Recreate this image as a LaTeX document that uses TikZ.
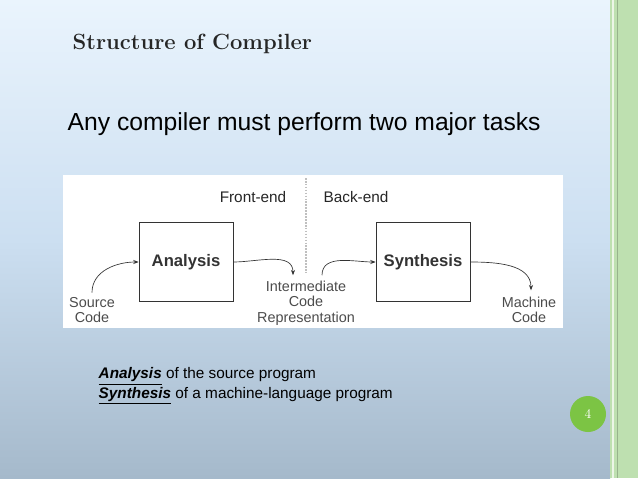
\documentclass[tikz,border=0pt]{standalone}
\usepackage{fontspec}
\newfontfamily\sans{Liberation Sans}
\usetikzlibrary{arrows.meta,calc}
\definecolor{slidetop}{HTML}{EAF4FD}
\definecolor{slidemid}{HTML}{CCDFF1}
\definecolor{slidebot}{HTML}{A5B9CB}
\definecolor{bandgreen}{HTML}{BEE0B0}
\definecolor{dotgreen}{HTML}{7CC444}
\tikzset{
  stage/.style={draw=black!80,line width=0.6pt,minimum width=70.5pt,minimum height=59pt,font=\sans\bfseries\fontsize{12.5}{14}\selectfont,text=black!80},
  lbl/.style={font=\sans\fontsize{10.8}{11.5}\selectfont,text=black!70,align=center},
  flow/.style={-{Stealth[length=4pt]},line width=0.5pt,black!80}
}
\begin{document}
\begin{tikzpicture}[x=0.75pt,y=-0.75pt]
  \useasboundingbox (0,0) rectangle (638,478);
  \shade[top color=slidetop,bottom color=slidebot,middle color=slidemid] (0,0) rectangle (610,478);
  \fill[bandgreen] (610,0) rectangle (638,478);
  \draw[white!70!bandgreen,line width=1pt] (613,0) -- (613,478);
  \draw[bandgreen!80!black,line width=0.5pt] (617,0) -- (617,478);

  % title and heading
  \node[anchor=west,font=\bfseries\fontsize{16.5}{18}\selectfont,text=black!85] (title) at (68,44) {Structure of Compiler};
  \node[anchor=west,font=\sans\fontsize{18.5}{20}\selectfont] (tasks) at (63,124) {Any compiler must perform two major tasks};

  % diagram
  \fill[white] (63,175) rectangle (563,328);
  \draw[black!25,densely dotted,line width=1.2pt] (306,178) -- (306,272);
  \node[stage] (analysis) at (186,262) {Analysis};
  \node[stage] (synthesis) at (423,262) {Synthesis};
  \node[lbl,font=\sans\fontsize{11.5}{12}\selectfont,text=black!85] (front) at (253,197) {Front-end};
  \node[lbl,font=\sans\fontsize{11.5}{12}\selectfont,text=black!85] (back) at (356,197) {Back-end};
  \node[lbl] (source) at (92,310) {Source\\Code};
  \node[lbl] (inter) at (306,303) {Intermediate\\Code\\Representation};
  \node[lbl] (machine) at (529,310) {Machine\\Code};
  \draw[flow] (source.north) to[out=90,in=180] (analysis.west);
  \draw[flow] (analysis.east) to[out=0,in=90] ($(inter.north)+(-13,-1)$);
  \draw[flow] ($(inter.north)+(16,-1)$) to[out=90,in=180] (synthesis.west);
  \draw[flow] (synthesis.east) to[out=0,in=90] ($(machine.north)+(2,-2)$);

  % bullets
  \node[anchor=west,font=\sans\fontsize{11.5}{14.5}\selectfont,align=left] (goals) at (94,386)
    {\underline{\textit{\textbf{Analysis}}} of the source program\\\underline{\textit{\textbf{Synthesis}}} of a machine-language program};

  \fill[dotgreen] (588,414) circle (18);
  \node[font=\fontsize{10}{11}\selectfont,text=white] (page) at (588,414) {4};
\end{tikzpicture}
\end{document}
